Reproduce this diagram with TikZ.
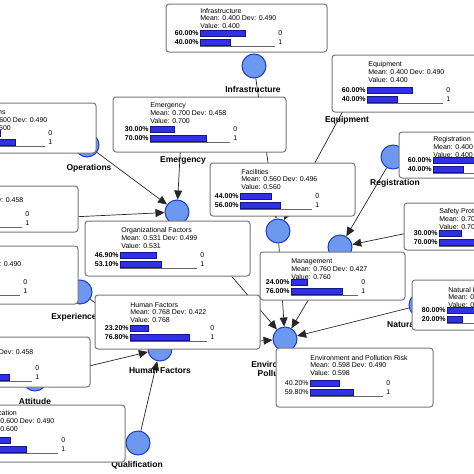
\documentclass[tikz,border=0pt]{standalone}
\usepackage{fontspec}
\setmainfont{Liberation Sans}
\usetikzlibrary{arrows.meta}

\definecolor{nodeblue}{RGB}{108,152,240}
\definecolor{nodeedge}{RGB}{30,60,200}
\definecolor{barblue}{RGB}{48,48,228}
\definecolor{baredge}{RGB}{20,20,140}
\definecolor{boxgray}{RGB}{120,120,120}

\tikzset{every picture/.style={line width=0.75pt}}
\tikzset{
  bnode/.style={circle,minimum size=24,inner sep=0pt,fill=nodeblue,draw=nodeedge,line width=1pt},
  link/.style={draw=black!85,line width=0.7pt,-{Triangle[length=9pt,width=8pt]}},
  blabel/.style={font=\fontsize{8.5}{9.5}\selectfont\bfseries,inner sep=0pt,align=center},
  monbox/.style={draw=boxgray,fill=white,rounded corners=3pt,line width=1pt},
  montxt/.style={font=\fontsize{7}{8}\selectfont,inner sep=0pt,anchor=west},
  bar/.style={fill=barblue,draw=baredge,line width=0.4pt},
  barbase/.style={draw=black!60,line width=0.6pt}
}

% monitor text: prefix, x, y, title, mean line, value line
\newcommand{\montext}[6]{%
  \node[montxt] (#1-t) at (#2,#3) {#4};
  \node[montxt] (#1-m) at (#2,#3+7.5) {#5};
  \node[montxt] (#1-v) at (#2,#3+15) {#6};
}
% monitor bars: prefix, x, y, length, p0, p1, percent font
\newcommand{\monbars}[7]{%
  \path[bar] (#2,#3-3) rectangle ++(#5*#4/100,6);
  \path[bar] (#2,#3+6) rectangle ++(#6*#4/100,6);
  \draw[barbase] (#2,#3+13) -- ++(#4,0);
  \node[montxt,anchor=east,font=\fontsize{7}{8}\selectfont#7] (#1-p0) at (#2-1,#3) {#5\%};
  \node[montxt,anchor=east,font=\fontsize{7}{8}\selectfont#7] (#1-p1) at (#2-1,#3+9) {#6\%};
  \node[montxt] (#1-s0) at (#2+#4+3,#3) {0};
  \node[montxt] (#1-s1) at (#2+#4+3,#3+9) {1};
}

\begin{document}
\begin{tikzpicture}[x=1pt,y=1pt,yscale=-1]
\useasboundingbox (0,0) rectangle (474,474);
\clip (0,0) rectangle (474,474);

% network nodes
\node[bnode] (infra) at (254,66) {};
\node[bnode] (equip) at (350,98) {};
\node[bnode] (oper) at (87,145) {};
\node[bnode] (emerg) at (181,138) {};
\node[bnode] (reg) at (393,157) {};
\node[bnode] (work) at (50,218) {};
\node[bnode] (safe) at (432,228) {};
\node[bnode] (org) at (177,212) {};
\node[bnode] (fac) at (278,231) {};
\node[bnode] (mgmt) at (340,247) {};
\node[bnode] (exp) at (80,292) {};
\node[bnode] (nat) at (421,305) {};
\node[bnode] (env) at (285,339) {};
\node[bnode] (hf) at (160,349) {};
\node[bnode] (att) at (35,379) {};
\node[bnode] (qual) at (138,443) {};

% links
\draw[link] (oper) -- (org);
\draw[link] (emerg) -- (org);
\draw[link] (work) -- (org);
\draw[link] (infra) -- (fac);
\draw[link] (equip) -- (fac);
\draw[link] (reg) -- (mgmt);
\draw[link] (safe) -- (mgmt);
\draw[link] (exp) -- (hf);
\draw[link] (att) -- (hf);
\draw[link] (qual) -- (hf);
\draw[link] (org) -- (env);
\draw[link] (fac) -- (env);
\draw[link] (mgmt) -- (env);
\draw[link] (hf) -- (env);
\draw[link] (nat) -- (env);

% node labels
\node[blabel] (infra-l) at (253,89) {Infrastructure};
\node[blabel] (equip-l) at (347,120) {Equipment};
\node[blabel] (oper-l) at (89,168) {Operations};
\node[blabel] (emerg-l) at (183,160) {Emergency};
\node[blabel] (reg-l) at (395,183) {Registration};
\node[blabel] (exp-l) at (74,317) {Experience};
\node[blabel] (nat-l) at (412,324) {Natural Risk};
\node[blabel] (env-l) at (286,369) {Environment and\\Pollution Risk};
\node[blabel] (hf-l) at (160,371) {Human Factors};
\node[blabel] (att-l) at (35,401) {Attitude};
\node[blabel] (qual-l) at (137,465) {Qualification};

% monitor windows
\draw[monbox] (166,4) rectangle (327,52);
\montext{infrab}{200}{11}{Infrastructure}{Mean: 0.400 Dev: 0.490}{Value: 0.400}
\monbars{infrab}{200}{33}{75}{60.00}{40.00}{\bfseries}

\draw[monbox] (332,55) rectangle (490,112);
\montext{equipb}{368}{65}{Equipment}{Mean: 0.400 Dev: 0.490}{Value: 0.400}
\monbars{equipb}{367}{90}{76}{60.00}{40.00}{\bfseries}

\draw[monbox] (-60,103) rectangle (96,153);
\montext{operb}{-29}{113}{Operations}{Mean: 0.600 Dev: 0.490}{Value: 0.600}
\monbars{operb}{-29}{133}{74}{40.00}{60.00}{\bfseries}

\draw[monbox] (113,97) rectangle (286,152);
\montext{emergb}{150}{106}{Emergency}{Mean: 0.700 Dev: 0.458}{Value: 0.700}
\monbars{emergb}{150}{129}{80}{30.00}{70.00}{\bfseries}

\draw[monbox] (399,132) rectangle (490,178);
\montext{regb}{433}{140}{Registration}{Mean: 0.400 Dev: 0.490}{Value: 0.400}
\monbars{regb}{433}{160}{75}{60.00}{40.00}{\bfseries}

\draw[monbox] (210,163) rectangle (355,216);
\montext{facb}{241}{172}{Facilities}{Mean: 0.560 Dev: 0.496}{Value: 0.560}
\monbars{facb}{240}{196}{72}{44.00}{56.00}{\bfseries}

\draw[monbox] (-60,186) rectangle (78,232);
\montext{workb}{-53}{193}{}{Mean: 0.700 Dev: 0.458}{Value: 0.700}
\monbars{workb}{-53}{214}{75}{30.00}{70.00}{\bfseries}

\draw[monbox] (404,203) rectangle (490,250);
\montext{safeb}{439}{212}{Safety Protection}{Mean: 0.700 Dev: 0.458}{Value: 0.700}
\monbars{safeb}{439}{233}{73}{30.00}{70.00}{\bfseries}

\draw[monbox] (85,221) rectangle (250,276);
\montext{orgb}{121}{231}{Organizational Factors}{Mean: 0.531 Dev: 0.499}{Value: 0.531}
\monbars{orgb}{120}{255}{77}{46.90}{53.10}{\bfseries}

\draw[monbox] (-60,246) rectangle (78,304);
\montext{expb}{-55}{257}{}{Mean: 0.600 Dev: 0.490}{Value: 0.600}
\monbars{expb}{-55}{282}{75}{40.00}{60.00}{\bfseries}

\draw[monbox] (260,252) rectangle (405,300);
\montext{mgmtb}{291}{262}{Management}{Mean: 0.760 Dev: 0.427}{Value: 0.760}
\monbars{mgmtb}{291}{282}{67}{24.00}{76.00}{\bfseries}

\draw[monbox] (412,280) rectangle (490,330);
\montext{natb}{448}{290}{Natural Risk}{Mean: 0.200 Dev: 0.400}{Value: 0.200}
\monbars{natb}{447}{310}{75}{80.00}{20.00}{\bfseries}

\draw[monbox] (95,295) rectangle (260,349);
\montext{hfb}{130}{305}{Human Factors}{Mean: 0.768 Dev: 0.422}{Value: 0.768}
\monbars{hfb}{130}{328}{77}{23.20}{76.80}{\bfseries}

\draw[monbox] (-60,337) rectangle (90,387);
\montext{attb}{-43}{345}{Attitude}{Mean: 0.700 Dev: 0.458}{Value: 0.700}
\monbars{attb}{-43}{368}{75}{30.00}{70.00}{\bfseries}

\draw[monbox] (276,348) rectangle (433,407);
\montext{envb}{310}{358}{Environment and Pollution Risk}{Mean: 0.598 Dev: 0.490}{Value: 0.598}
\monbars{envb}{310}{383}{73}{40.20}{59.80}{}

\draw[monbox] (-60,405) rectangle (125,462);
\montext{qualb}{-22}{414}{Qualification}{Mean: 0.600 Dev: 0.490}{Value: 0.600}
\monbars{qualb}{-22}{440}{80}{40.00}{60.00}{\bfseries}

\end{tikzpicture}
\end{document}
